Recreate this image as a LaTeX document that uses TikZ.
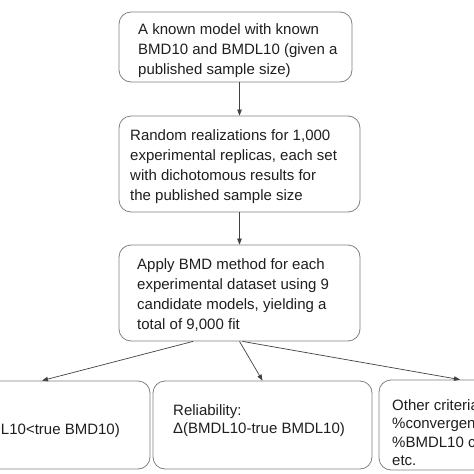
\documentclass[tikz,border=0pt]{standalone}
\usepackage{fontspec}
\setmainfont{Liberation Sans}
\usetikzlibrary{arrows.meta}
\definecolor{boxline}{HTML}{808080}
\definecolor{arrline}{HTML}{404040}
\definecolor{txtcol}{HTML}{1E1E1E}
\tikzset{
  flowbox/.style={draw=boxline, line width=0.8pt, rounded corners=12pt, rectangle, inner sep=0pt},
  arr/.style={draw=arrline, line width=0.7pt, -{Triangle[length=6pt,width=4.5pt]}},
  txt/.style={anchor=north west, align=left, inner sep=0pt, text=txtcol, font=\fontsize{15}{20.3}\selectfont},
  txtb/.style={txt, font=\fontsize{15}{18.5}\selectfont},
}
\begin{document}
\begin{tikzpicture}[x=1pt,y=-1pt]
\useasboundingbox (0,0) rectangle (474,474);
% boxes
\node[flowbox, minimum width=233pt, minimum height=70pt] (b1) at (235.5,47) {};
\node[flowbox, minimum width=241pt, minimum height=96pt] (b2) at (239.5,164) {};
\node[flowbox, minimum width=241pt, minimum height=96pt] (b3) at (239.5,293) {};
\node[flowbox, minimum width=216pt, minimum height=88pt] (b4) at (42,425) {};
\node[flowbox, minimum width=219pt, minimum height=88pt] (b5) at (262.5,425) {};
\node[flowbox, minimum width=219pt, minimum height=90pt] (b6) at (488.5,425) {};
% texts
\node[txt] (t1) at (138,23) {A known model with known\\BMD10 and BMDL10 (given a\\published sample size)};
\node[txt] (t2) at (130,129) {Random realizations for 1,000\\experimental replicas, each set\\with dichotomous results for\\the published sample size};
\node[txt] (t3) at (137,258) {Apply BMD method for each\\experimental dataset using 9\\candidate models, yielding a\\total of 9,000 fit};
\node[txt, anchor=north east] (t4) at (120,423) {\%(BMDL10<true BMD10)};
\node[txtb] (t5) at (173,404) {Reliability:\\Δ(BMDL10-true BMDL10)};
\node[txtb] (t6) at (392,399) {Other criteria:\\\%convergence\\\%BMDL10 computed\\etc.};
% arrows
\draw[arr] (b2.north |- b1.south) -- (b2.north);
\draw[arr] (b3.north |- b2.south) -- (b3.north);
\draw[arr] ([xshift=-46.5pt]b3.south) -- (b4.north);
\draw[arr] (b3.south) -- (b5.north);
\draw[arr] ([xshift=3pt]b3.south) -- ([xshift=-28.5pt]b6.north);
\end{tikzpicture}
\end{document}
